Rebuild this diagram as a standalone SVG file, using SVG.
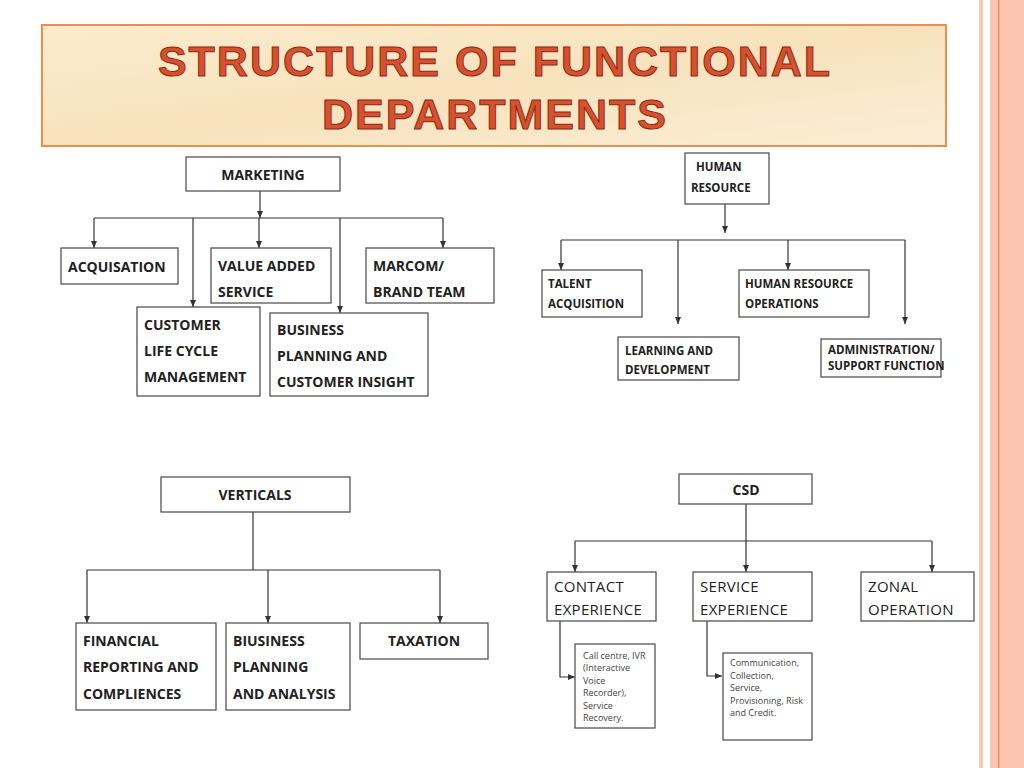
<svg xmlns="http://www.w3.org/2000/svg" width="1024" height="768" viewBox="0 0 1024 768">
<defs>
<marker id="ah" markerWidth="8" markerHeight="8" refX="7" refY="4" orient="auto" markerUnits="userSpaceOnUse"><path d="M0,1 L7,4 L0,7 z" fill="#333"/></marker>
<linearGradient id="bg" x1="0" y1="0" x2="1" y2="1"><stop offset="0" stop-color="#fbeccd"/><stop offset="0.5" stop-color="#f7e2bd"/><stop offset="1" stop-color="#fbeed6"/></linearGradient>
</defs>
<style>
.b{fill:#fff;stroke:#555;stroke-width:1.3}
.t{font-family:"Open Sans","Liberation Sans",sans-serif;font-weight:bold;fill:#222;font-size:14px}
.s{font-family:"Open Sans","Liberation Sans",sans-serif;font-weight:bold;fill:#222;font-size:11.5px}
.l{font-family:"Open Sans","Liberation Sans",sans-serif;fill:#222;font-size:15px;letter-spacing:0.3px}
.x{font-family:"Open Sans","Liberation Sans",sans-serif;fill:#444;font-size:9px}
.c{fill:none;stroke:#333;stroke-width:1.2}
.a{fill:none;stroke:#333;stroke-width:1.2;marker-end:url(#ah)}
</style>
<rect width="1024" height="768" fill="#fff"/>
<rect x="979" y="0" width="4" height="768" fill="#f6c8b6"/>
<rect x="990" y="0" width="34" height="768" fill="#fbc4ae"/>
<rect x="998" y="0" width="1.5" height="768" fill="#e8946a"/>
<g id="title">
<rect x="42" y="25" width="904" height="121" fill="url(#bg)" stroke="#ec8f4d" stroke-width="2"/>
<text x="495" y="76" text-anchor="middle" font-family="'Liberation Sans',Arial,sans-serif" font-weight="bold" font-size="43" fill="#d8512f" stroke="#8b2a12" stroke-width="1" letter-spacing="2">STRUCTURE OF FUNCTIONAL</text>
<text x="495" y="129" text-anchor="middle" font-family="'Liberation Sans',Arial,sans-serif" font-weight="bold" font-size="43" fill="#d8512f" stroke="#8b2a12" stroke-width="1" letter-spacing="2">DEPARTMENTS</text>
</g>
<g id="connectors">
<path class="a" d="M260,191 V218"/>
<path class="c" d="M94,218 H443"/>
<path class="a" d="M94,218 V248"/>
<path class="a" d="M193,218 V307"/>
<path class="a" d="M259,218 V248"/>
<path class="a" d="M340,218 V313"/>
<path class="a" d="M443,218 V248"/>
<path class="a" d="M725,204 V233"/>
<path class="c" d="M561,240 H905"/>
<path class="a" d="M561,240 V270"/>
<path class="a" d="M678,240 V324"/>
<path class="a" d="M788,240 V270"/>
<path class="a" d="M905,240 V324"/>
<path class="c" d="M253,512 V570"/>
<path class="c" d="M87,570 H440"/>
<path class="a" d="M87,570 V623"/>
<path class="a" d="M268,570 V623"/>
<path class="a" d="M440,570 V623"/>
<path class="a" d="M746,504 V572"/>
<path class="c" d="M575,541 H932"/>
<path class="a" d="M575,541 V572"/>
<path class="a" d="M932,541 V572"/>
<path class="a" d="M560,621 V677 H575"/>
<path class="a" d="M707,621 V676 H722"/>
</g>
<g id="marketing"><rect class="b" x="186" y="157" width="154" height="34"/><text class="t" x="263" y="180" text-anchor="middle">MARKETING</text></g>
<g id="acq"><rect class="b" x="61" y="248" width="117" height="36"/><text class="t" x="68" y="272">ACQUISATION</text></g>
<g id="vas"><rect class="b" x="211" y="248" width="120" height="55"/><text class="t" x="218" y="271">VALUE ADDED</text><text class="t" x="218" y="297">SERVICE</text></g>
<g id="marcom"><rect class="b" x="366" y="248" width="128" height="55"/><text class="t" x="373" y="271">MARCOM/</text><text class="t" x="373" y="297">BRAND TEAM</text></g>
<g id="clm"><rect class="b" x="137" y="307" width="123" height="89"/><text class="t" x="144" y="330">CUSTOMER</text><text class="t" x="144" y="356">LIFE CYCLE</text><text class="t" x="144" y="382">MANAGEMENT</text></g>
<g id="bpci"><rect class="b" x="270" y="313" width="158" height="83"/><text class="t" x="277" y="335">BUSINESS</text><text class="t" x="277" y="361">PLANNING AND</text><text class="t" x="277" y="387">CUSTOMER INSIGHT</text></g>
<g id="hr"><rect class="b" x="685" y="153" width="84" height="51"/><text class="s" x="696" y="171">HUMAN</text><text class="s" x="691" y="192">RESOURCE</text></g>
<g id="ta"><rect class="b" x="542" y="270" width="100" height="47"/><text class="s" x="548" y="288">TALENT</text><text class="s" x="548" y="308">ACQUISITION</text></g>
<g id="hro"><rect class="b" x="739" y="270" width="130" height="47"/><text class="s" x="745" y="288">HUMAN RESOURCE</text><text class="s" x="745" y="308">OPERATIONS</text></g>
<g id="ld"><rect class="b" x="618" y="337" width="121" height="43"/><text class="s" x="625" y="355">LEARNING AND</text><text class="s" x="625" y="374">DEVELOPMENT</text></g>
<g id="adm"><rect class="b" x="821" y="339" width="120" height="38"/><text class="s" x="828" y="354" font-size="10">ADMINISTRATION/</text><text class="s" x="828" y="370" font-size="10">SUPPORT FUNCTION</text></g>
<g id="verticals"><rect class="b" x="161" y="477" width="189" height="35"/><text class="t" x="255" y="500" text-anchor="middle">VERTICALS</text></g>
<g id="frc"><rect class="b" x="76" y="623" width="140" height="87"/><text class="t" x="83" y="646">FINANCIAL</text><text class="t" x="83" y="672">REPORTING AND</text><text class="t" x="83" y="699">COMPLIENCES</text></g>
<g id="bpa"><rect class="b" x="226" y="623" width="124" height="87"/><text class="t" x="233" y="646">BIUSINESS</text><text class="t" x="233" y="672">PLANNING</text><text class="t" x="233" y="699">AND ANALYSIS</text></g>
<g id="tax"><rect class="b" x="360" y="623" width="128" height="36"/><text class="t" x="424" y="646" text-anchor="middle">TAXATION</text></g>
<g id="csd"><rect class="b" x="679" y="474" width="133" height="30"/><text class="t" x="746" y="495" text-anchor="middle">CSD</text></g>
<g id="ce"><rect class="b" x="547" y="572" width="109" height="49"/><text class="l" x="554" y="592">CONTACT</text><text class="l" x="554" y="615">EXPERIENCE</text></g>
<g id="se"><rect class="b" x="693" y="572" width="119" height="49"/><text class="l" x="700" y="592">SERVICE</text><text class="l" x="700" y="615">EXPERIENCE</text></g>
<g id="zo"><rect class="b" x="861" y="572" width="113" height="49"/><text class="l" x="868" y="592">ZONAL</text><text class="l" x="868" y="615">OPERATION</text></g>
<g id="ced"><rect class="b" x="575" y="644" width="80" height="84"/><text class="x" x="583" y="659">Call centre, IVR</text><text class="x" x="583" y="671">(Interactive</text><text class="x" x="583" y="684">Voice</text><text class="x" x="583" y="696">Recorder),</text><text class="x" x="583" y="709">Service</text><text class="x" x="583" y="721">Recovery.</text></g>
<g id="sed"><rect class="b" x="723" y="653" width="89" height="87"/><text class="x" x="730" y="666">Communication,</text><text class="x" x="730" y="679">Collection,</text><text class="x" x="730" y="691">Service,</text><text class="x" x="730" y="704">Provisioning, Risk</text><text class="x" x="730" y="716">and Credit.</text></g>
</svg>
